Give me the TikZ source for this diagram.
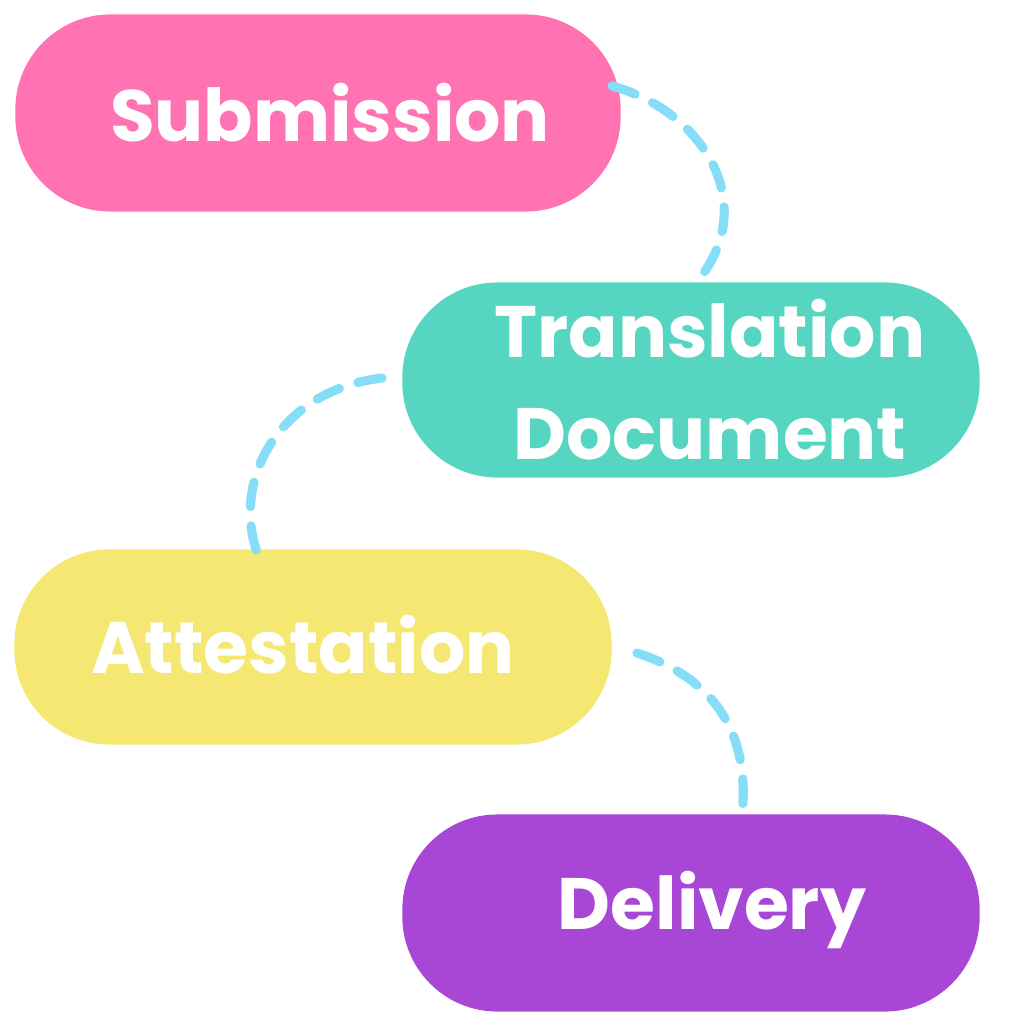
\documentclass[tikz,border=0pt]{standalone}
\usepackage{fontspec}
\setmainfont{Poppins}
\usetikzlibrary{positioning}
\definecolor{subpink}{HTML}{FF73B3}
\definecolor{transteal}{HTML}{56D6C0}
\definecolor{attyellow}{HTML}{F5E872}
\definecolor{delpurple}{HTML}{A846D6}
\definecolor{dashblue}{HTML}{86DDF8}

\begin{document}
\begin{tikzpicture}[
    x=0.01cm, y=-0.01cm,
    blob/.style={rectangle, rounded corners=0.95cm, inner sep=0pt, text=white,
      font=\fontsize{20.7}{29}\selectfont\bfseries, align=center},
    link/.style={dashblue, line width=2.6pt, dash pattern=on 7pt off 5.5pt, line cap=round}
]
\useasboundingbox (0,0) rectangle (1024,1024);

\node[blob, fill=subpink, minimum width=6.05cm, minimum height=1.97cm] (sub) at (318,113) {};
\node[blob, fill=none] (subtxt) at (330,113) {Submission};
\node[blob, fill=transteal, minimum width=5.77cm, minimum height=1.95cm] (trans) at (691,380) {};
\node[blob, fill=none] (transtxt) at (710,380) {Translation\\Document};
\node[blob, fill=attyellow, minimum width=5.97cm, minimum height=1.95cm] (att) at (313,647) {};
\node[blob, fill=none] (atttxt) at (303,645) {Attestation};
\node[blob, fill=delpurple, minimum width=5.77cm, minimum height=1.97cm] (del) at (691,913) {};
\node[blob, fill=none] (deltxt) at (712,910) {Delivery};

% connectors
\coordinate (c1a) at (612,86);
\coordinate (c1b) at (700,278);
\coordinate (c2a) at (382,378);
\coordinate (c2b) at (258,555);
\coordinate (c3a) at (637,653);
\coordinate (c3b) at (742,815);
\draw[link] (c1a) .. controls (700,110) and (760,200) .. (c1b);
\draw[link] (c2a) .. controls (280,390) and (230,480) .. (c2b);
\draw[link] (c3a) .. controls (720,680) and (750,740) .. (c3b);
\end{tikzpicture}
\end{document}
